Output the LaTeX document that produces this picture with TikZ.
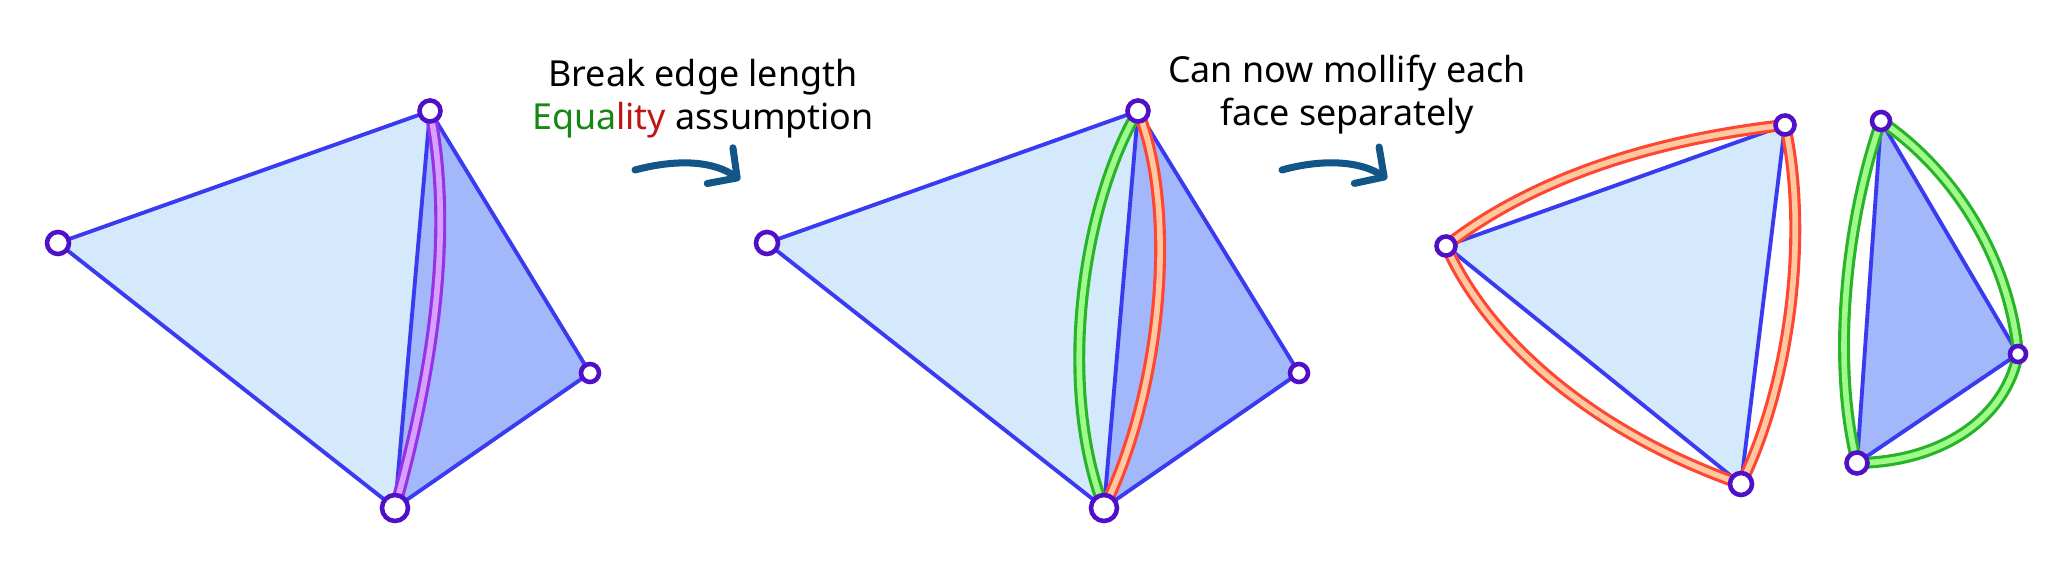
\documentclass[tikz,border=0pt]{standalone}
\usepackage{fontspec}
\setsansfont{Noto Sans}
\usetikzlibrary{arrows.meta}

\definecolor{lightface}{RGB}{212,234,252}
\definecolor{darkface}{RGB}{163,184,250}
\definecolor{edgeblue}{RGB}{58,58,240}
\definecolor{vtxpurple}{RGB}{80,16,200}
\definecolor{violetout}{RGB}{150,50,230}
\definecolor{violetin}{RGB}{215,160,255}
\definecolor{greenout}{RGB}{40,180,40}
\definecolor{greenin}{RGB}{160,250,140}
\definecolor{orangeout}{RGB}{255,70,50}
\definecolor{orangein}{RGB}{255,200,160}
\definecolor{arrowblue}{RGB}{18,85,135}
\definecolor{eqgreen}{RGB}{20,135,20}
\definecolor{eqred}{RGB}{190,20,20}

\begin{document}
\begin{tikzpicture}[x=0.01cm, y=-0.01cm,
    edge/.style={draw=edgeblue, line width=1.1pt, line join=round},
    vtx/.style={circle, draw=vtxpurple, fill=white, line width=1.3pt, inner sep=0pt, minimum size=#1},
    violetpath/.style={draw=violetout, double=violetin, line width=0.9pt, double distance=1.6pt},
    greenpath/.style={draw=greenout, double=greenin, line width=0.9pt, double distance=1.6pt},
    orangepath/.style={draw=orangeout, double=orangein, line width=0.9pt, double distance=1.6pt},
    bendarrow/.style={draw=arrowblue, line width=2pt, line cap=round, -{Straight Barb[length=2.1mm, width=4.4mm, round]}},
    caption/.style={font=\sffamily\fontsize{10.2}{12.2}\selectfont, align=center}]

\useasboundingbox (0,0) rectangle (2048,568);

% Vertex positions
\coordinate (A1) at (58,243);
\coordinate (B1) at (430,111);
\coordinate (C1) at (395,508);
\coordinate (D1) at (590,373);

\coordinate (A2) at (767,243);
\coordinate (B2) at (1138,111);
\coordinate (C2) at (1104,508);
\coordinate (D2) at (1299,373);

\coordinate (A3) at (1446,246);
\coordinate (B3) at (1785,125);
\coordinate (C3) at (1741,484);
\coordinate (E3) at (1881,121);
\coordinate (F3) at (2018,354);
\coordinate (G3) at (1857,463);

% First mesh: shared edge
\fill[lightface] (A1) -- (B1) -- (C1) -- cycle;
\fill[darkface] (B1) -- (D1) -- (C1) -- cycle;
\draw[edge] (A1) -- (B1) -- (D1) -- (C1) -- cycle;
\draw[edge] (B1) -- (C1);
\draw[violetpath] (B1) .. controls (450,210) and (442,340) .. (C1);

% Second mesh: edge split in two
\fill[lightface] (A2) -- (B2) -- (C2) -- cycle;
\fill[darkface] (B2) -- (D2) -- (C2) -- cycle;
\draw[edge] (A2) -- (B2) -- (D2) -- (C2) -- cycle;
\draw[edge] (B2) -- (C2);
\draw[greenpath] (B2) .. controls (1080,210) and (1058,390) .. (C2);
\draw[orangepath] (B2) .. controls (1178,210) and (1162,390) .. (C2);

% Third: faces apart
\fill[lightface] (A3) -- (B3) -- (C3) -- cycle;
\draw[edge] (A3) -- (B3) -- (C3) -- cycle;
\draw[orangepath] (A3) .. controls (1530,180) and (1650,140) .. (B3);
\draw[orangepath] (B3) .. controls (1808,230) and (1792,380) .. (C3);
\draw[orangepath] (A3) .. controls (1490,345) and (1600,435) .. (C3);

\fill[darkface] (E3) -- (F3) -- (G3) -- cycle;
\draw[edge] (E3) -- (F3) -- (G3) -- cycle;
\draw[greenpath] (E3) .. controls (1843,230) and (1833,370) .. (G3);
\draw[greenpath] (E3) .. controls (1960,175) and (2010,265) .. (F3);
\draw[greenpath] (F3) .. controls (2005,420) and (1940,462) .. (G3);

% Vertices
\node[vtx=2.2mm] (vA1) at (A1) {};
\node[vtx=2.1mm] (vB1) at (B1) {};
\node[vtx=2.6mm] (vC1) at (C1) {};
\node[vtx=1.8mm] (vD1) at (D1) {};

\node[vtx=2.2mm] (vA2) at (A2) {};
\node[vtx=2.1mm] (vB2) at (B2) {};
\node[vtx=2.6mm] (vC2) at (C2) {};
\node[vtx=1.8mm] (vD2) at (D2) {};

\node[vtx=1.9mm] (vA3) at (A3) {};
\node[vtx=1.9mm] (vB3) at (B3) {};
\node[vtx=2.2mm] (vC3) at (C3) {};
\node[vtx=1.8mm] (vE3) at (E3) {};
\node[vtx=1.6mm] (vF3) at (F3) {};
\node[vtx=2.1mm] (vG3) at (G3) {};

% Captions and arrows
\node[caption] (breaktext) at (703,99) {Break edge length\\{\color{eqgreen}Equa}{\color{eqred}lity} assumption};
\node[caption] (mollifytext) at (1347,95) {Can now mollify each\\face separately};

\coordinate (arrowAstart) at (635,170);
\coordinate (arrowAend) at (740,180);
\coordinate (arrowBstart) at (1282,170);
\coordinate (arrowBend) at (1387,179);
\draw[bendarrow] (arrowAstart) .. controls (680,158) and (715,162) .. (arrowAend);
\draw[bendarrow] (arrowBstart) .. controls (1325,158) and (1362,162) .. (arrowBend);

\end{tikzpicture}
\end{document}
